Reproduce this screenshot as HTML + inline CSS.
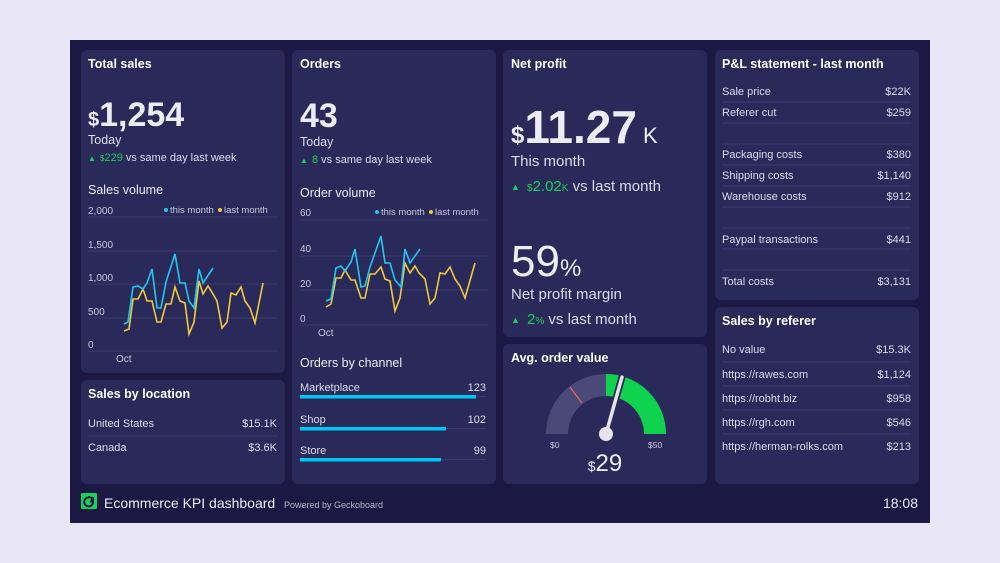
<!DOCTYPE html>
<html><head><meta charset="utf-8"><style>
html,body{margin:0;padding:0;background:#e9e7f7;}
svg{display:block;font-family:"Liberation Sans",sans-serif;}
.t{fill:#fff;font-weight:bold;font-size:12.5px;}
.l{fill:#dcdcea;font-size:11px;}
.a{fill:#c8c8da;font-size:10px;}
.g{fill:#18d158;}
.w{fill:#ececf4;}
</style></head><body>
<svg width="1000" height="563" viewBox="0 0 1000 563">
<rect x="0" y="0" width="1000" height="563" fill="#e9e7f7"/>
<rect x="70" y="40" width="860" height="483" fill="#1b1843"/>
<g fill="#29295a">
<rect x="81" y="50" width="204" height="323" rx="6"/>
<rect x="81" y="380" width="204" height="104" rx="6"/>
<rect x="292" y="50" width="204" height="434" rx="6"/>
<rect x="503" y="50" width="204" height="287" rx="6"/>
<rect x="503" y="344" width="204" height="140" rx="6"/>
<rect x="715" y="50" width="204" height="250" rx="6"/>
<rect x="715" y="307" width="204" height="177" rx="6"/>
</g>
<!-- Total sales -->
<text x="88" y="68" class="t">Total sales</text>
<text x="88" y="126" class="w" style="font-size:34px;font-weight:bold"><tspan style="font-size:20px">$</tspan>1,254</text>
<text x="88" y="144" class="l" style="font-size:12.5px">Today</text>
<text x="88" y="161" class="g" style="font-size:8px">▲</text>
<text x="100" y="161" class="l"><tspan class="g" style="font-size:8px">$</tspan><tspan class="g">229</tspan> vs same day last week</text>
<text x="88" y="194" class="w" style="font-size:12.5px">Sales volume</text>
<g stroke="#3a3a6e" stroke-width="1">
<line x1="88" y1="217" x2="277" y2="217"/><line x1="88" y1="251" x2="277" y2="251"/><line x1="88" y1="284" x2="277" y2="284"/><line x1="88" y1="318" x2="277" y2="318"/><line x1="88" y1="351" x2="277" y2="351"/>
</g>
<text x="88" y="214" class="a">2,000</text><text x="88" y="248" class="a">1,500</text><text x="88" y="281" class="a">1,000</text><text x="88" y="315" class="a">500</text><text x="88" y="348" class="a">0</text>
<text x="116" y="362" class="a">Oct</text>
<circle cx="166" cy="210" r="2" fill="#1fc8f2"/><text x="170" y="213" class="a" style="font-size:9.5px">this month</text>
<circle cx="220" cy="210" r="2" fill="#f2c83c"/><text x="224" y="213" class="a" style="font-size:9.5px">last month</text>
<polyline fill="none" stroke="#f2c83c" stroke-width="1.6" points="124,331 129,329 133,299 138,299 143,289 147,301 152,301 157,322 161,322 166,304 171,304 175,287 180,301 185,303 189,334 194,322 199,281 203,294 208,286 213,294 217,301 222,328 227,322 231,293 236,295 241,287 245,301 250,308 255,323 263,283"/>
<polyline fill="none" stroke="#1fc8f2" stroke-width="1.6" points="124,324 128,322 133,287 138,286 143,289 147,283 152,269 157,308 161,308 166,282 175,254 180,283 185,283 189,301 194,308 199,269 203,283 213,268"/>
<!-- Sales by location -->
<text x="88" y="398" class="t">Sales by location</text>
<text x="88" y="427" class="l">United States</text><text x="277" y="427" class="l" text-anchor="end">$15.1K</text>
<line x1="88" y1="436" x2="277" y2="436" stroke="#3a3a6e"/>
<text x="88" y="451" class="l">Canada</text><text x="277" y="451" class="l" text-anchor="end">$3.6K</text>
<!-- Orders -->
<text x="300" y="68" class="t">Orders</text>
<text x="300" y="127" class="w" style="font-size:34px;font-weight:bold">43</text>
<text x="300" y="146" class="l" style="font-size:12.5px">Today</text>
<text x="300" y="163" class="g" style="font-size:8px">▲</text>
<text x="312" y="163" class="l"><tspan class="g">8</tspan> vs same day last week</text>
<text x="300" y="197" class="w" style="font-size:12.5px">Order volume</text>
<g stroke="#3a3a6e" stroke-width="1">
<line x1="300" y1="220" x2="488" y2="220"/><line x1="300" y1="256" x2="488" y2="256"/><line x1="300" y1="290" x2="488" y2="290"/><line x1="300" y1="325" x2="488" y2="325"/>
</g>
<text x="300" y="216" class="a">60</text><text x="300" y="252" class="a">40</text><text x="300" y="287" class="a">20</text><text x="300" y="322" class="a">0</text>
<text x="318" y="336" class="a">Oct</text>
<circle cx="377" cy="212" r="2" fill="#1fc8f2"/><text x="381" y="215" class="a" style="font-size:9.5px">this month</text>
<circle cx="431" cy="212" r="2" fill="#f2c83c"/><text x="435" y="215" class="a" style="font-size:9.5px">last month</text>
<polyline fill="none" stroke="#f2c83c" stroke-width="1.6" points="326,307 331,304 336,278 341,278 345,270 351,280 355,280 361,298 365,298 370,274 375,274 381,267 385,279 390,281 395,311 400,298 405,263 410,273 415,266 419,273 425,279 430,304 435,298 440,273 445,274 450,267 455,279 460,286 465,298 475,263"/>
<polyline fill="none" stroke="#1fc8f2" stroke-width="1.6" points="326,301 331,299 336,268 341,266 345,271 351,262 355,249 361,287 365,286 370,267 381,236 385,263 390,263 395,280 401,287 405,249 410,263 420,249"/>
<text x="300" y="367" class="w" style="font-size:12.5px">Orders by channel</text>
<text x="300" y="391" class="l">Marketplace</text><text x="486" y="391" class="l" text-anchor="end">123</text>
<line x1="300" y1="396.5" x2="486" y2="396.5" stroke="#3a3a6e"/><rect x="300" y="395" width="176" height="3.5" fill="#00c8f5"/>
<text x="300" y="423" class="l">Shop</text><text x="486" y="423" class="l" text-anchor="end">102</text>
<line x1="300" y1="428.5" x2="486" y2="428.5" stroke="#3a3a6e"/><rect x="300" y="427" width="146" height="3.5" fill="#00c8f5"/>
<text x="300" y="454" class="l">Store</text><text x="486" y="454" class="l" text-anchor="end">99</text>
<line x1="300" y1="459.5" x2="486" y2="459.5" stroke="#3a3a6e"/><rect x="300" y="458" width="141" height="3.5" fill="#00c8f5"/>
<!-- Net profit -->
<text x="511" y="68" class="t">Net profit</text>
<text x="511" y="143" class="w" style="font-size:46px;font-weight:bold"><tspan style="font-size:24px">$</tspan>11.27<tspan style="font-size:22px;font-weight:normal"> K</tspan></text>
<text x="511" y="166" class="l" style="font-size:15px">This month</text>
<text x="511" y="190" class="g" style="font-size:9px">▲</text>
<text x="527" y="191" class="l" style="font-size:15px"><tspan class="g" style="font-size:10px">$</tspan><tspan class="g">2.02</tspan><tspan class="g" style="font-size:10px">K</tspan> vs last month</text>
<text x="511" y="276" class="w" style="font-size:44px">59<tspan style="font-size:24px">%</tspan></text>
<text x="511" y="299" class="l" style="font-size:15px">Net profit margin</text>
<text x="511" y="323" class="g" style="font-size:9px">▲</text>
<text x="527" y="324" class="l" style="font-size:15px"><tspan class="g">2</tspan><tspan class="g" style="font-size:10px">%</tspan> vs last month</text>
<!-- Avg order -->
<text x="511" y="362" class="t">Avg. order value</text>
<path d="M546,434 A60,60 0 0 1 606,374 L606,396 A38,38 0 0 0 568,434 Z" fill="#4a4a78"/>
<path d="M606,374 A60,60 0 0 1 666,434 L644,434 A38,38 0 0 0 606,396 Z" fill="#0fd24f"/>
<line x1="570" y1="387" x2="582" y2="403" stroke="#ff5a5a" stroke-width="1.2"/>
<line x1="606" y1="434" x2="622" y2="377" stroke="#29295a" stroke-width="7" stroke-linecap="round"/>
<line x1="606" y1="434" x2="622" y2="377" stroke="#e4e4ea" stroke-width="3.5" stroke-linecap="round"/>
<circle cx="606" cy="434" r="7" fill="#e4e4ea"/>
<text x="550" y="448" class="a" style="font-size:8.5px">$0</text><text x="648" y="448" class="a" style="font-size:8.5px">$50</text>
<text x="605" y="471" class="w" style="font-size:24px" text-anchor="middle"><tspan style="font-size:14px">$</tspan>29</text>
<!-- P&L -->
<text x="722" y="68" class="t">P&amp;L statement - last month</text>
<g class="l">
<text x="722" y="95">Sale price</text><text x="911" y="95" text-anchor="end">$22K</text>
<text x="722" y="116">Referer cut</text><text x="911" y="116" text-anchor="end">$259</text>
<text x="722" y="158">Packaging costs</text><text x="911" y="158" text-anchor="end">$380</text>
<text x="722" y="179">Shipping costs</text><text x="911" y="179" text-anchor="end">$1,140</text>
<text x="722" y="200">Warehouse costs</text><text x="911" y="200" text-anchor="end">$912</text>
<text x="722" y="243">Paypal transactions</text><text x="911" y="243" text-anchor="end">$441</text>
<text x="722" y="285">Total costs</text><text x="911" y="285" text-anchor="end">$3,131</text>
</g>
<g stroke="#3a3a6e">
<line x1="722" y1="102" x2="911" y2="102"/><line x1="722" y1="123" x2="911" y2="123"/><line x1="722" y1="144" x2="911" y2="144"/><line x1="722" y1="165" x2="911" y2="165"/><line x1="722" y1="186" x2="911" y2="186"/><line x1="722" y1="207" x2="911" y2="207"/><line x1="722" y1="228" x2="911" y2="228"/><line x1="722" y1="249" x2="911" y2="249"/><line x1="722" y1="270" x2="911" y2="270"/>
</g>
<!-- Referer -->
<text x="722" y="325" class="t">Sales by referer</text>
<g class="l">
<text x="722" y="353">No value</text><text x="911" y="353" text-anchor="end">$15.3K</text>
<text x="722" y="378">https://rawes.com</text><text x="911" y="378" text-anchor="end">$1,124</text>
<text x="722" y="402">https://robht.biz</text><text x="911" y="402" text-anchor="end">$958</text>
<text x="722" y="426">https://rgh.com</text><text x="911" y="426" text-anchor="end">$546</text>
<text x="722" y="450">https://herman-rolks.com</text><text x="911" y="450" text-anchor="end">$213</text>
</g>
<g stroke="#3a3a6e">
<line x1="722" y1="362" x2="911" y2="362"/><line x1="722" y1="386" x2="911" y2="386"/><line x1="722" y1="410" x2="911" y2="410"/><line x1="722" y1="434" x2="911" y2="434"/>
</g>
<!-- Footer -->
<rect x="81" y="493" width="16" height="16" rx="1.5" fill="#18d158"/>
<path d="M93,497 L93,503 A4.5,4.5 0 1 1 88,497.5 A2.5,2.5 0 1 1 90,502" fill="none" stroke="#1b1843" stroke-width="2"/>
<text x="104" y="508" fill="#ececf4" style="font-size:14px">Ecommerce KPI dashboard</text>
<text x="284" y="508" fill="#b8b8cc" style="font-size:9px">Powered by Geckoboard</text>
<text x="918" y="508" fill="#ececf4" style="font-size:14px" text-anchor="end">18:08</text>
</svg>
</body></html>
